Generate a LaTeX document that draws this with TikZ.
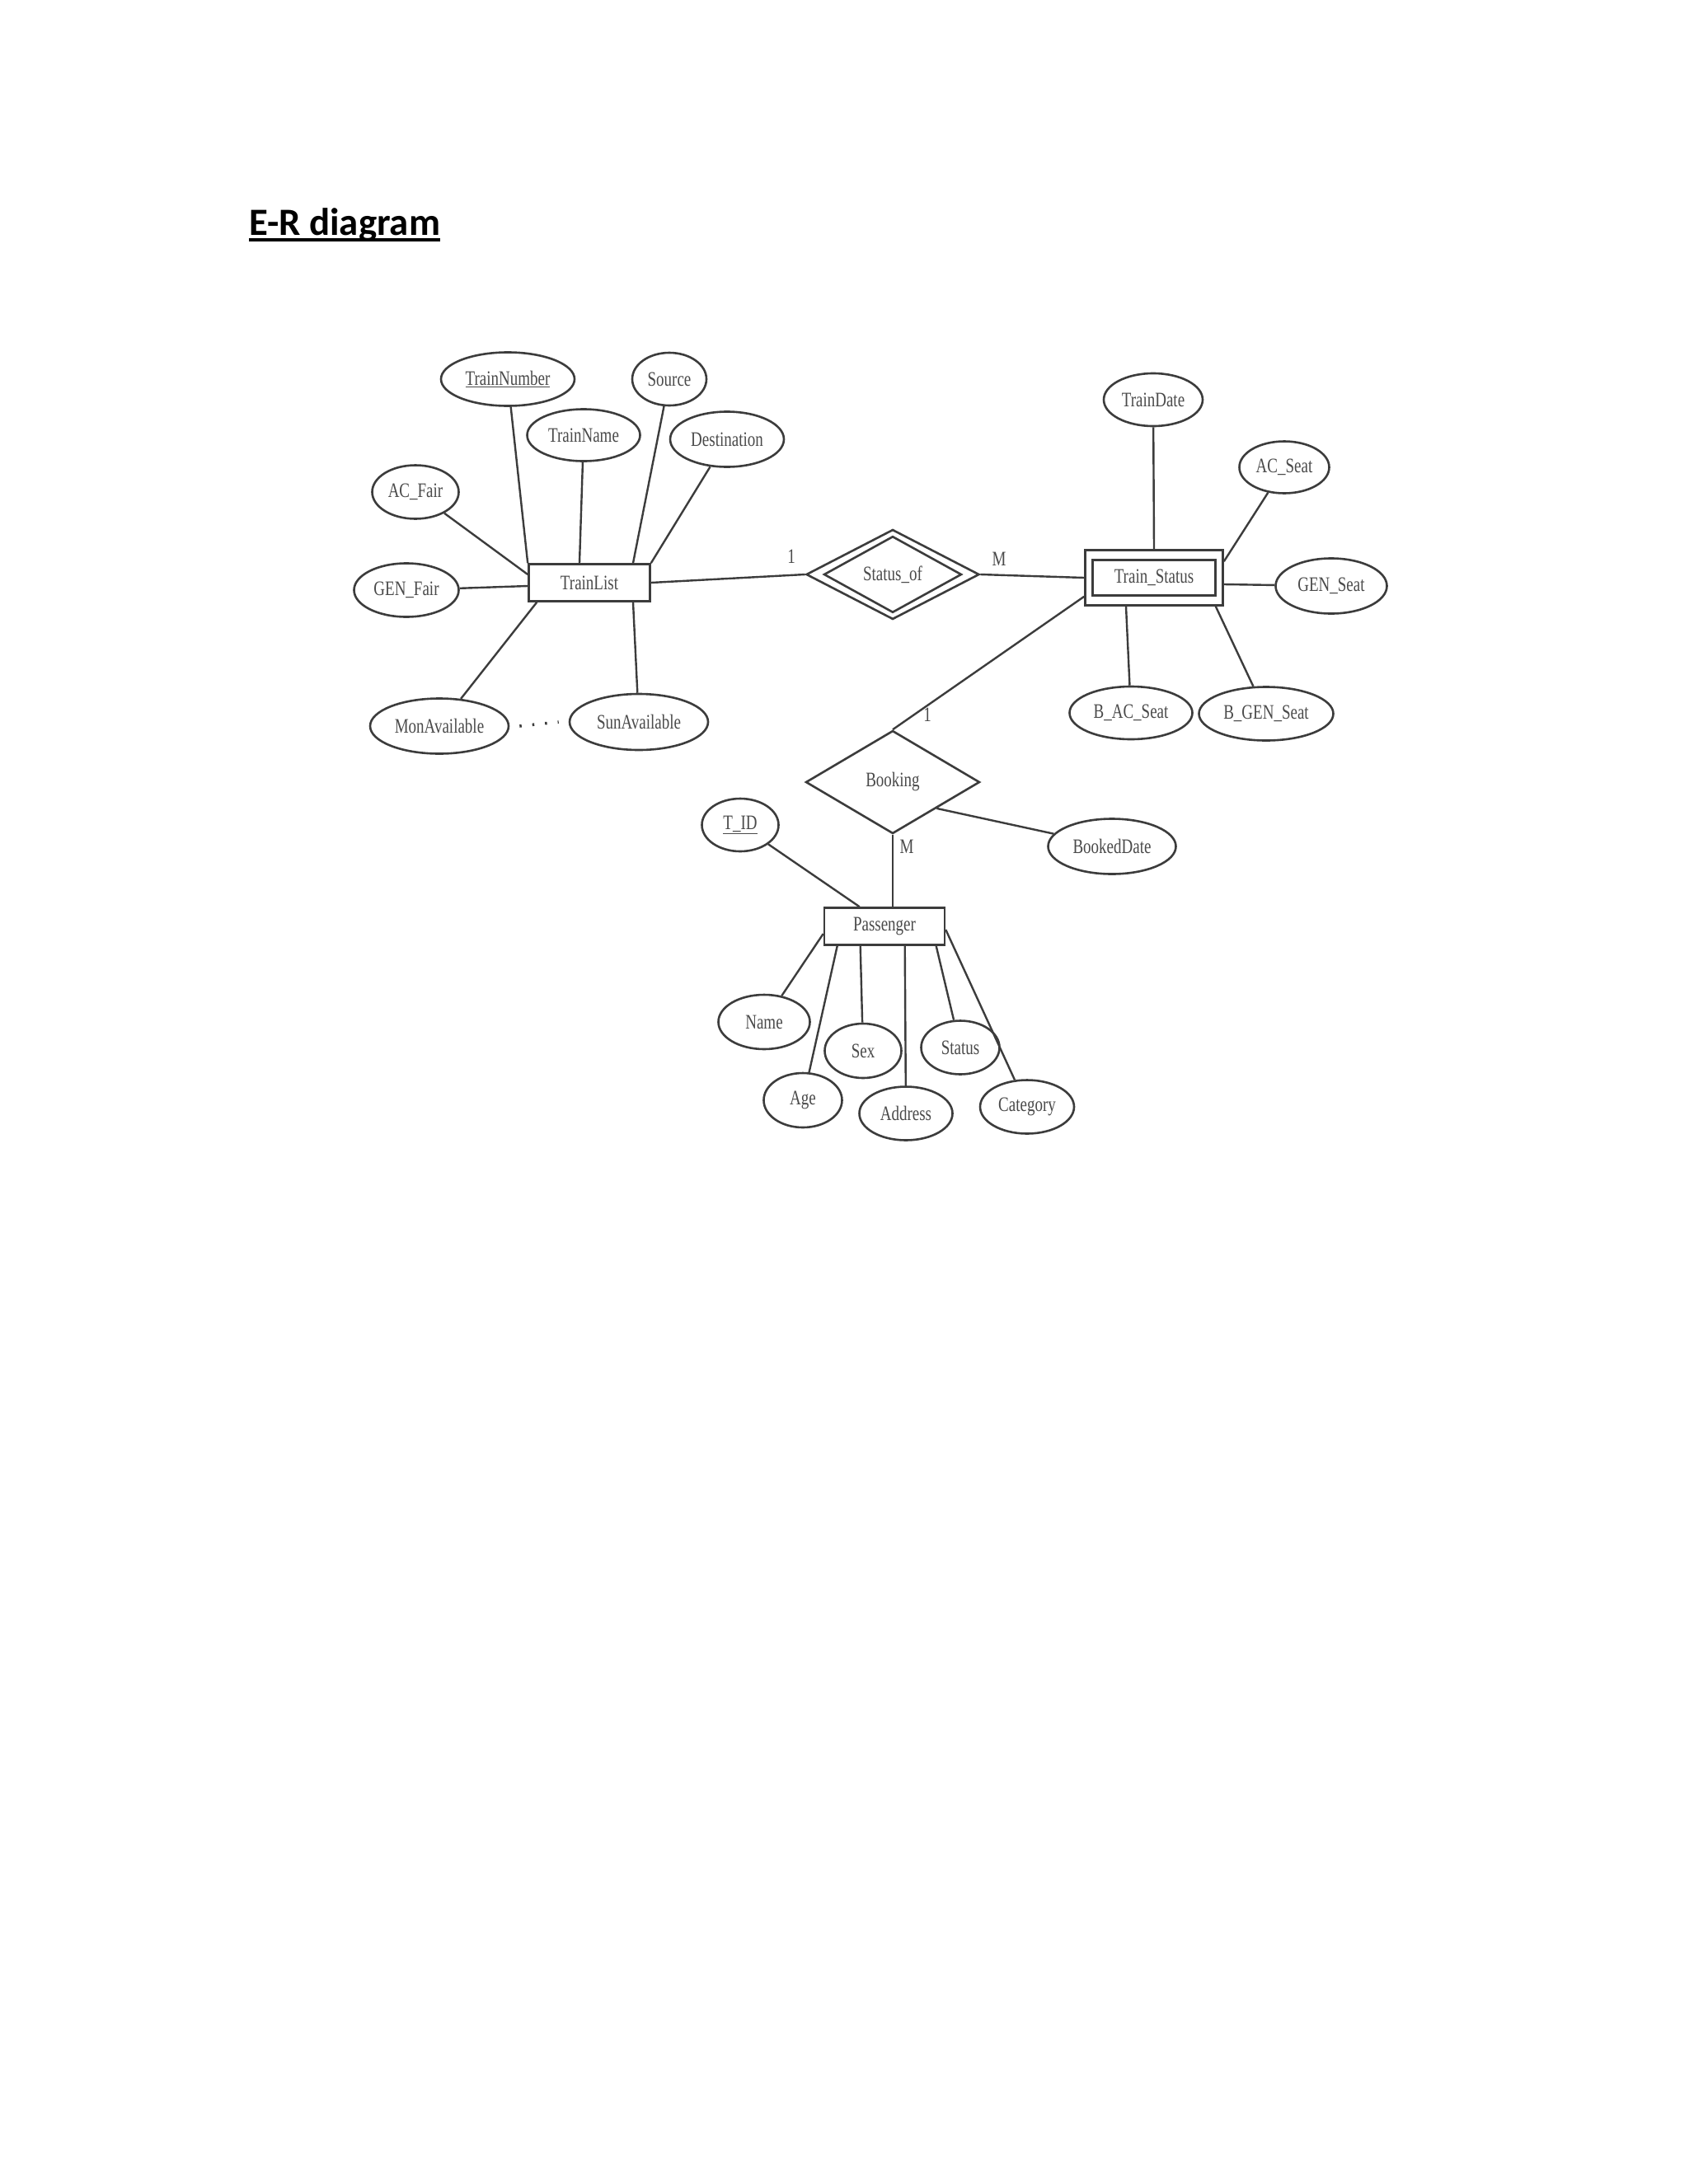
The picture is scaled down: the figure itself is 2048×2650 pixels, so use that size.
\documentclass[tikz,border=0pt]{standalone}
\usepackage{fontspec}
\usetikzlibrary{shapes.geometric,calc}
\newfontfamily\erfont[FakeStretch=0.76]{Liberation Serif}
\newfontfamily\titlefont{Carlito}
\definecolor{linec}{HTML}{3C3C3C}
\definecolor{textc}{HTML}{4A4A4A}
\tikzset{
  erfnt/.style={font=\erfont\fontsize{25}{30}\selectfont, text=textc},
  attr/.style={ellipse, draw=linec, line width=2.6pt, inner sep=0pt, erfnt},
  ent/.style={rectangle, draw=linec, line width=2.6pt, inner sep=0pt, erfnt},
  rel/.style={diamond, draw=linec, line width=2.6pt, inner sep=0pt, erfnt},
  conn/.style={draw=linec, line width=2.4pt},
  card/.style={inner sep=0pt, erfnt}
}
\begin{document}
\begin{tikzpicture}[x=1pt,y=-1pt]
\useasboundingbox[fill=white] (0,0) rectangle (2048,2650);

% title
\node[anchor=base west, inner sep=0pt, font=\titlefont\bfseries\fontsize{46.8}{56}\selectfont] (title) at (302,285) {E-R diagram};
\draw[line width=3.5pt] ([yshift=-6pt]title.base west) -- ([yshift=-6pt]title.base east);

% TrainList cluster
\node[ent, minimum width=147pt, minimum height=45pt] (trainlist) at (715,707) {TrainList};
\node[attr, minimum width=162pt, minimum height=65pt] (trainnumber) at (616,460) {\underline{TrainNumber}};
\node[attr, minimum width=90pt, minimum height=64pt] (source) at (812,460) {Source};
\node[attr, minimum width=137pt, minimum height=63pt] (trainname) at (708,528) {TrainName};
\node[attr, minimum width=138pt, minimum height=67pt] (destination) at (882,533) {Destination};
\node[attr, minimum width=105pt, minimum height=65pt] (acfair) at (504,597) {AC\_Fair};
\node[attr, minimum width=127pt, minimum height=65pt] (genfair) at (493,716) {GEN\_Fair};
\node[attr, minimum width=168pt, minimum height=67pt] (monavail) at (533,881) {MonAvailable};
\node[attr, minimum width=168pt, minimum height=68pt] (sunavail) at (775,876) {SunAvailable};

\draw[conn] (trainnumber) -- (trainlist.north west);
\draw[conn] (trainname) -- ([xshift=-12pt]trainlist.north);
\draw[conn] (source) -- ([xshift=53pt]trainlist.north);
\draw[conn] (destination) -- (trainlist.north east);
\draw[conn] (acfair) -- ([yshift=10pt]trainlist.west);
\draw[conn] (genfair) -- ([yshift=-4pt]trainlist.west);
\draw[conn] (monavail) -- ([xshift=11pt]trainlist.south west);
\draw[conn] (sunavail) -- ([xshift=53pt]trainlist.south);
\draw[linec, line width=3.5pt, dash pattern=on 2.5pt off 13pt] ([xshift=12pt]monavail.east) -- ([xshift=-12pt]sunavail.west);

% Status_of
\node[rel, minimum width=210pt, minimum height=109pt] (statusof) at (1083,697) {};
\node[rel, minimum width=167pt, minimum height=80pt] (statusofin) at (1083,697) {Status\_of};

% Train_Status cluster
\node[ent, minimum width=167pt, minimum height=67pt] (trainstatus) at (1400,701) {};
\node[ent, minimum width=149pt, minimum height=43pt] (trainstatusin) at (1400,701) {Train\_Status};
\node[attr, minimum width=120pt, minimum height=64pt] (traindate) at (1399,485) {TrainDate};
\node[attr, minimum width=109pt, minimum height=63pt] (acseat) at (1558,567) {AC\_Seat};
\node[attr, minimum width=135pt, minimum height=67pt] (genseat) at (1615,711) {GEN\_Seat};
\node[attr, minimum width=149pt, minimum height=64pt] (bacseat) at (1372,865) {B\_AC\_Seat};
\node[attr, minimum width=163pt, minimum height=65pt] (bgenseat) at (1536,866) {B\_GEN\_Seat};

\draw[conn] (trainlist.east) -- (statusof.west);
\draw[conn] (statusof.east) -- (trainstatus.west);
\draw[conn] (traindate) -- (trainstatus.north);
\draw[conn] (acseat) -- ([yshift=-15pt]trainstatus.north east);
\draw[conn] (genseat) -- ([yshift=-8pt]trainstatus.east);
\draw[conn] (bacseat) -- ([xshift=-34pt]trainstatus.south);
\draw[conn] (bgenseat) -- ([xshift=-10pt]trainstatus.south east);

\node[card] (c1) at (960,675) {1};
\node[card] (c2) at (1212,678) {M};

% Booking
\node[rel, minimum width=211pt, minimum height=125pt] (booking) at (1083,949) {\raisebox{6pt}{Booking}};
\draw[conn] ([yshift=12pt]trainstatus.south west) -- (booking.north);
\node[card] (c3) at (1125,867) {1};
\node[card] (c4) at (1100,1027) {M};

\node[attr, minimum width=155pt, minimum height=67pt] (bookeddate) at (1349,1027) {BookedDate};
\draw[conn] (bookeddate) -- (booking.south east);

% Passenger cluster
\node[ent, minimum width=146pt, minimum height=45pt] (passenger) at (1073,1124) {Passenger};
\draw[conn] (booking.south) -- (booking.south |- passenger.north);
\node[attr, minimum width=93pt, minimum height=64pt] (tid) at (898,1001) {\underline{T\_ID}};
\node[attr, minimum width=111pt, minimum height=66pt] (name) at (927,1240) {Name};
\node[attr, minimum width=93pt, minimum height=66pt] (sex) at (1047,1275) {Sex};
\node[attr, minimum width=95pt, minimum height=66pt] (age) at (974,1335) {Age};
\node[attr, minimum width=113pt, minimum height=65pt] (address) at (1099,1351) {Address};
\node[attr, minimum width=95pt, minimum height=65pt] (status) at (1165,1271) {Status};
\node[attr, minimum width=114pt, minimum height=65pt] (category) at (1246,1343) {Category};

\draw[conn] (tid) -- ([xshift=44pt]passenger.north west);
\draw[conn] (name) -- ([yshift=-9pt]passenger.west);
\draw[conn] (age) -- ([xshift=17pt]passenger.south west);
\draw[conn] (sex) -- ([xshift=45pt]passenger.south west);
\draw[conn] (address) -- ([xshift=99pt]passenger.south west);
\draw[conn] (status) -- ([xshift=137pt]passenger.south west);
\draw[conn] (category) -- ([yshift=-4pt]passenger.east);
\end{tikzpicture}
\end{document}
